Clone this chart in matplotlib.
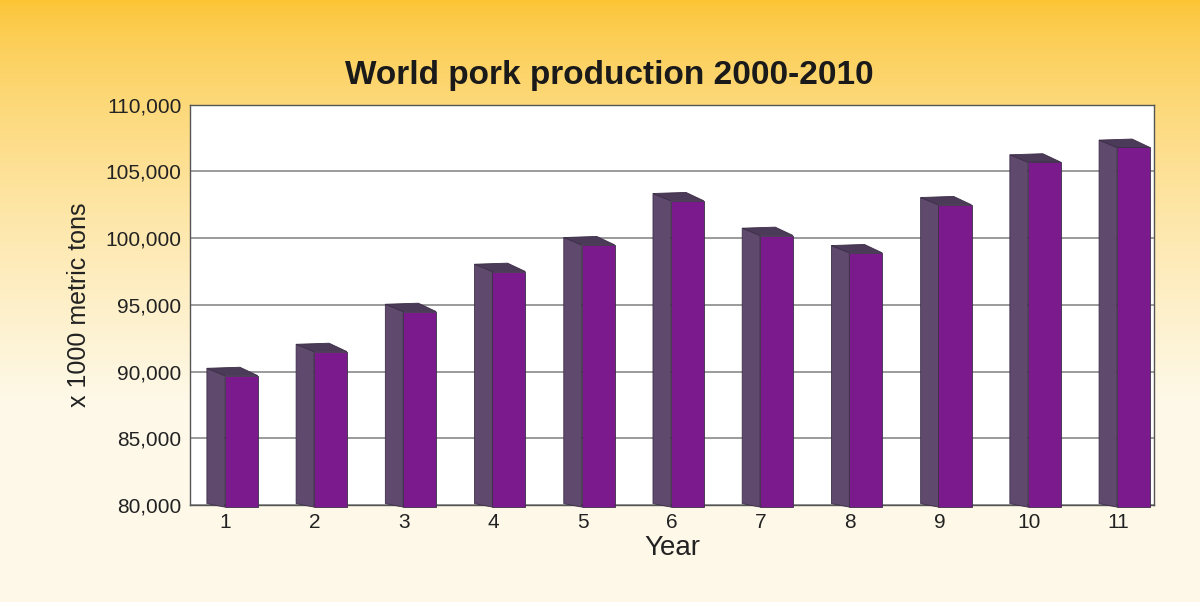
import numpy as np
import matplotlib
matplotlib.use("Agg")
import matplotlib.pyplot as plt
from matplotlib.patches import Polygon

plt.rcParams["font.family"] = ["Liberation Sans", "DejaVu Sans"]

years = list(range(1, 12))
production = [89700, 91500, 94500, 97500, 99500, 102800, 100200, 98900, 102500, 105700, 106800]

FRONT = "#7b1a8c"; SIDE = "#5f4a6e"; TOP = "#4b3a58"; EDGE = "#3d2e48"

fig = plt.figure(figsize=(12, 6.02), dpi=100)

# background gradient
bg = fig.add_axes([0, 0, 1, 1], zorder=0)
grad = np.linspace(0, 1, 256)[:, None]
c_top = np.array([0.99, 0.77, 0.20]); c_bot = np.array([0.995, 0.975, 0.91])
t = np.clip(grad * 1.5, 0, 1) ** 0.7
img = c_top * (1 - t[..., None]) + c_bot * t[..., None]
bg.imshow(np.repeat(img, 2, axis=1), aspect="auto", extent=[0, 1, 0, 1])
bg.axis("off")

ax = fig.add_axes([0.158, 0.161, 0.804, 0.665], zorder=1)
ax.set_facecolor("white")
ax.set_xlim(0.596, 11.41)
ax.set_ylim(80000, 110000)
ax.set_yticks(range(80000, 110001, 5000))
ax.set_yticklabels([f"{v:,}" for v in range(80000, 110001, 5000)])
ax.set_xticks(years)
ax.grid(axis="y", color="#8a8a8a", lw=1.2)
ax.set_axisbelow(True)

w = 0.37; dx = 0.2; dy = 550
for x, v in zip(years, production):
    x0 = x - 0.01
    # side face (left)
    ax.add_patch(Polygon([(x0 - dx, 80000 + dy * 0.2), (x0, 80000 - 150), (x0, v), (x0 - dx, v + dy)],
                         closed=True, fc=SIDE, ec=EDGE, lw=0.6, zorder=3, clip_on=False))
    # top face
    ax.add_patch(Polygon([(x0 - dx, v + dy), (x0 - dx + w, v + dy + 80), (x0 + w, v), (x0, v)],
                         closed=True, fc=TOP, ec=EDGE, lw=0.6, zorder=3, clip_on=False))
bars = ax.bar([x - 0.01 for x in years], [p - 79850 for p in production], bottom=80000 - 150,
              width=w, align="edge", color=FRONT, edgecolor=EDGE, lw=0.6, zorder=4)
for b in bars:
    b.set_clip_on(False)

ax.tick_params(axis="both", labelsize=15, length=0, pad=6, colors="#222222")
for s in ax.spines.values():
    s.set_color("#555555"); s.set_linewidth(1.0)
ax.set_xlabel("Year", fontsize=20, color="#222222", labelpad=2)
ax.set_ylabel("x 1000 metric tons", fontsize=18, color="#222222", labelpad=10)
fig.text(0.508, 0.875, "World pork production 2000-2010", ha="center", va="center",
         fontsize=24, fontweight="bold", color="#1a1a1a")

fig.savefig("out.png", dpi=100)
